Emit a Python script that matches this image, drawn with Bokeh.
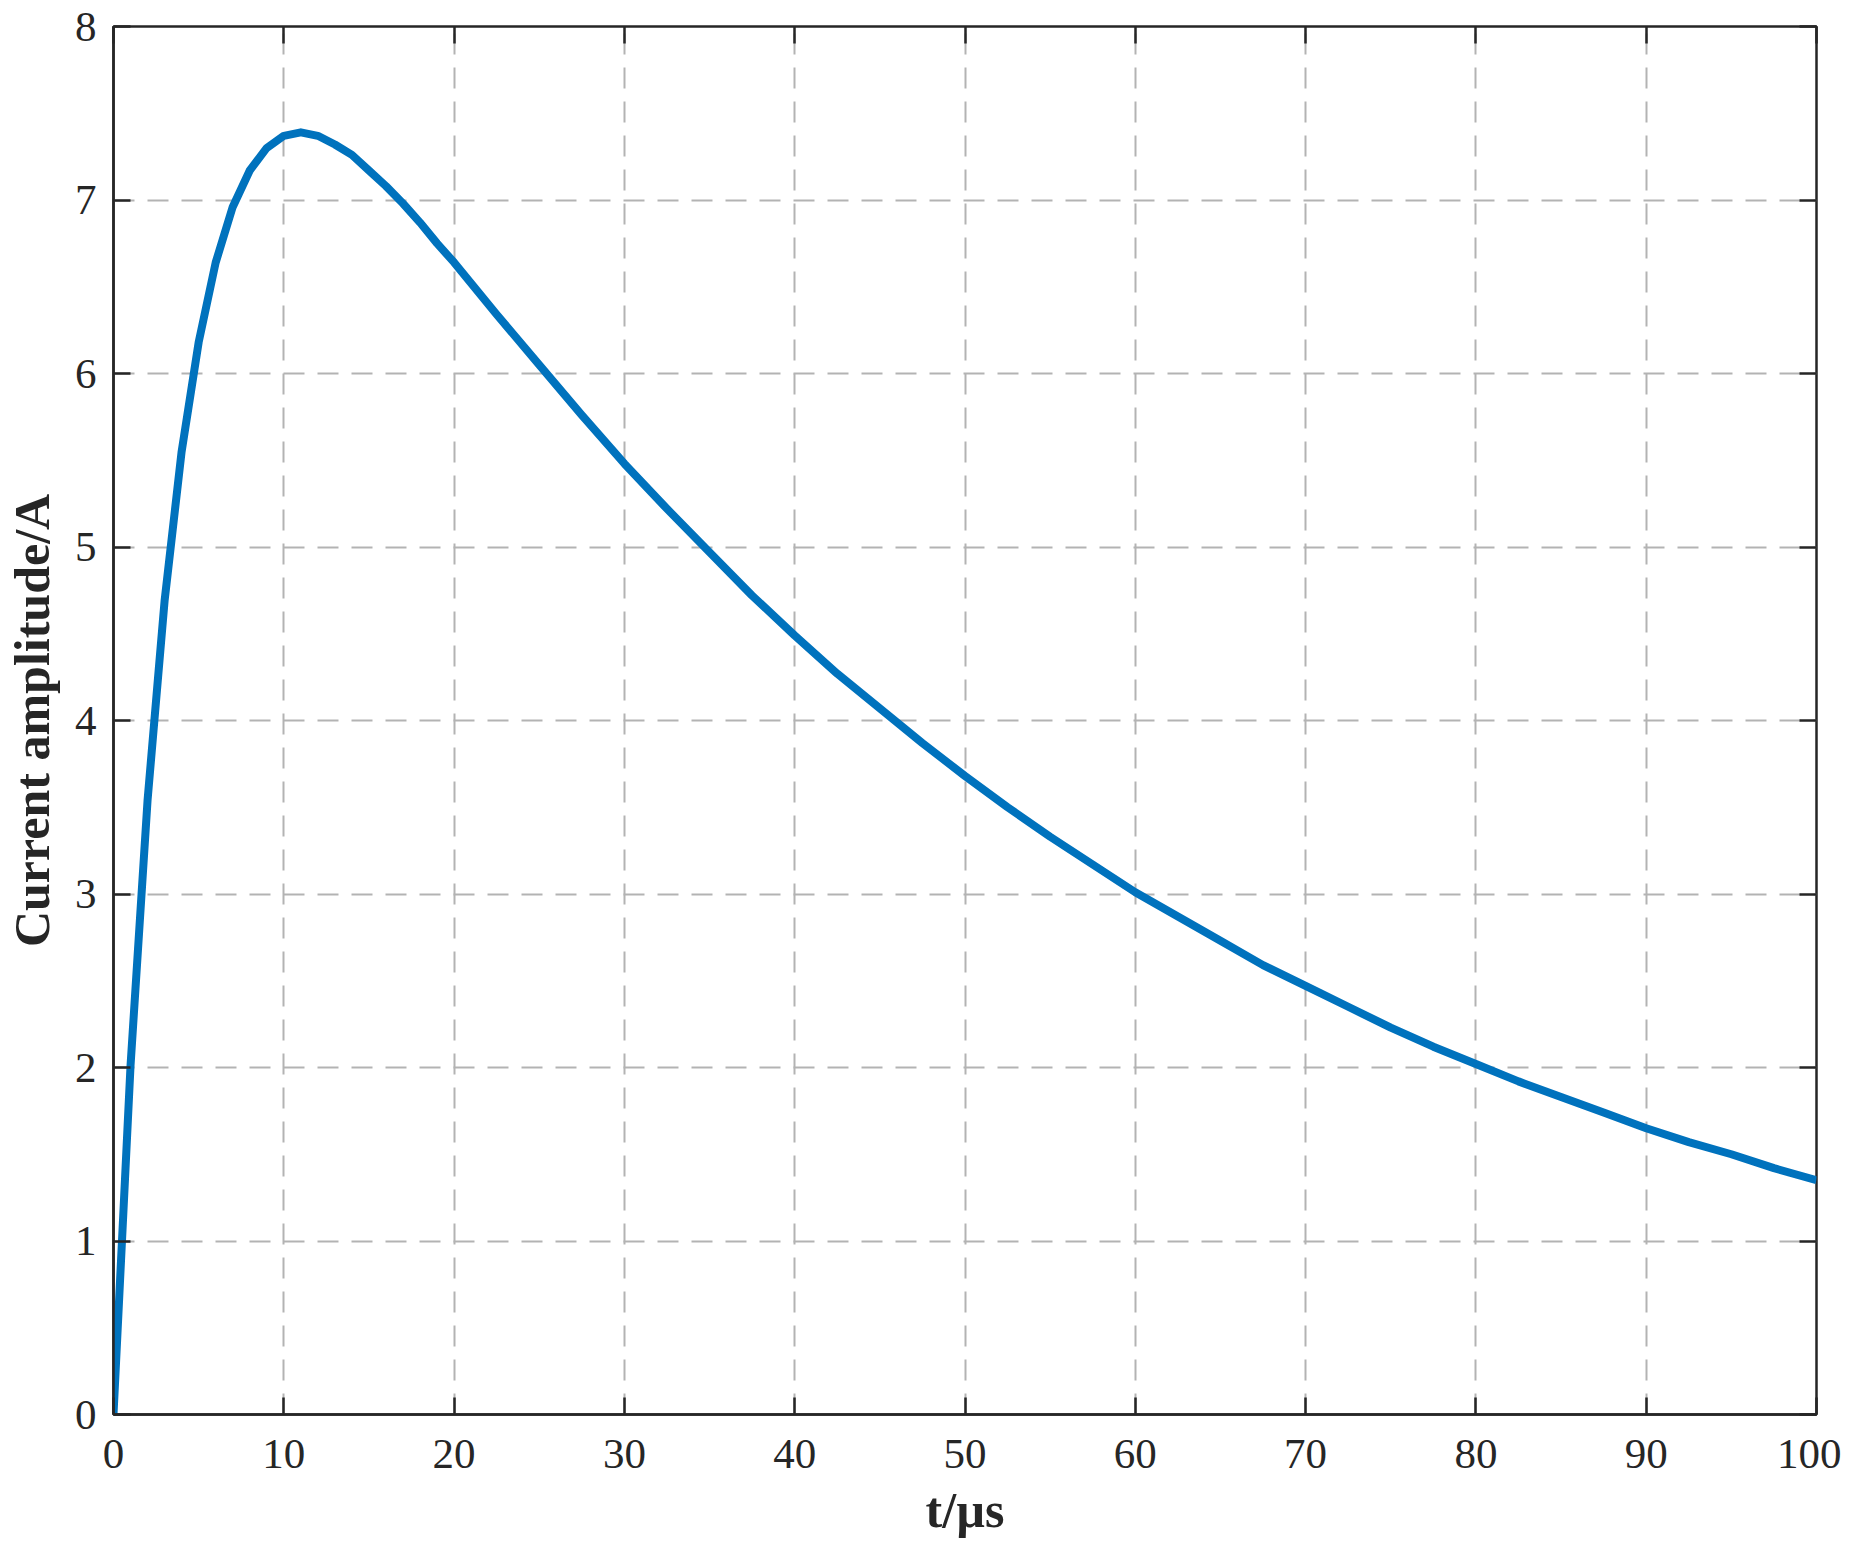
from bokeh.plotting import figure
from bokeh.models import Range1d, FixedTicker, LinearAxis
from bokeh.embed import file_html
from bokeh.resources import INLINE

# Data
t_us = [0, 1, 2, 3, 4, 5, 6, 7, 8, 9, 10, 11, 12, 13, 14, 15, 16, 17, 18, 19, 20,
        22.5, 25, 27.5, 30, 32.5, 35, 37.5, 40, 42.5, 45, 47.5, 50, 52.5, 55, 57.5,
        60, 62.5, 65, 67.5, 70, 72.5, 75, 77.5, 80, 82.5, 85, 87.5, 90, 92.5, 95,
        97.5, 100]
current_a = [0.0, 2.01, 3.54, 4.69, 5.55, 6.18, 6.64, 6.96, 7.17, 7.30, 7.37, 7.39,
             7.37, 7.32, 7.26, 7.17, 7.08, 6.98, 6.87, 6.75, 6.64,
             6.34, 6.05, 5.76, 5.48, 5.22, 4.97, 4.72, 4.49, 4.27, 4.07, 3.87,
             3.68, 3.50, 3.33, 3.17, 3.01, 2.87, 2.73, 2.59, 2.47, 2.35, 2.23,
             2.12, 2.02, 1.92, 1.83, 1.74, 1.65, 1.57, 1.50, 1.42, 1.35]
x_ticks = [0, 10, 20, 30, 40, 50, 60, 70, 80, 90, 100]
y_ticks = [0, 1, 2, 3, 4, 5, 6, 7, 8]
x_label = "t/\u00b5s"
y_label = "Current amplitude/A"

AX = "#262626"
FONT = "Liberation Serif"

p = figure(width=1841, height=1543, output_backend="svg", toolbar_location=None,
           x_range=Range1d(0, 100), y_range=Range1d(0, 8),
           min_border_left=106, min_border_right=25, min_border_top=26,
           min_border_bottom=129)
p.background_fill_color = "white"
p.border_fill_color = "white"
p.outline_line_color = AX
p.outline_line_width = 2.5

p.line(t_us, current_a, line_color="#0072BD", line_width=8, line_join="round")

for ax in (p.xaxis[0], p.yaxis[0]):
    ax.major_tick_in = 17
    ax.major_tick_out = 0
    ax.minor_tick_line_color = None
    ax.major_tick_line_color = AX
    ax.major_tick_line_width = 2.5
    ax.axis_line_color = AX
    ax.axis_line_width = 2.5
    ax.major_label_text_font = FONT
    ax.major_label_text_font_size = "43px"
    ax.major_label_text_color = AX
    ax.axis_label_text_font = FONT
    ax.axis_label_text_font_style = "bold"
    ax.axis_label_text_font_size = "50px"
    ax.axis_label_text_color = AX

p.xaxis[0].ticker = FixedTicker(ticks=x_ticks)
p.yaxis[0].ticker = FixedTicker(ticks=y_ticks)
p.xaxis[0].axis_label = x_label
p.yaxis[0].axis_label = y_label
p.xaxis[0].major_label_standoff = 25
p.xaxis[0].axis_label_standoff = 11
p.yaxis[0].major_label_standoff = 17
p.yaxis[0].axis_label_standoff = 12

# mirrored ticks on top and right (no labels)
top = LinearAxis(ticker=FixedTicker(ticks=x_ticks),
                 major_label_overrides={t: "" for t in x_ticks})
right = LinearAxis(ticker=FixedTicker(ticks=y_ticks),
                   major_label_overrides={t: "" for t in y_ticks})
for ax in (top, right):
    ax.major_tick_in = 17
    ax.major_tick_out = 0
    ax.minor_tick_line_color = None
    ax.major_tick_line_color = AX
    ax.major_tick_line_width = 2.5
    ax.axis_line_color = None
    ax.major_label_text_font_size = "1px"
    ax.major_label_standoff = 0
p.add_layout(top, "above")
p.add_layout(right, "right")

for g, tk in ((p.xgrid[0], x_ticks), (p.ygrid[0], y_ticks)):
    g.ticker = FixedTicker(ticks=tk)
    g.grid_line_color = "#b3b3b3"
    g.grid_line_width = 2
    g.grid_line_dash = "21 13"

open("out.html", "w").write(file_html(p, INLINE))
